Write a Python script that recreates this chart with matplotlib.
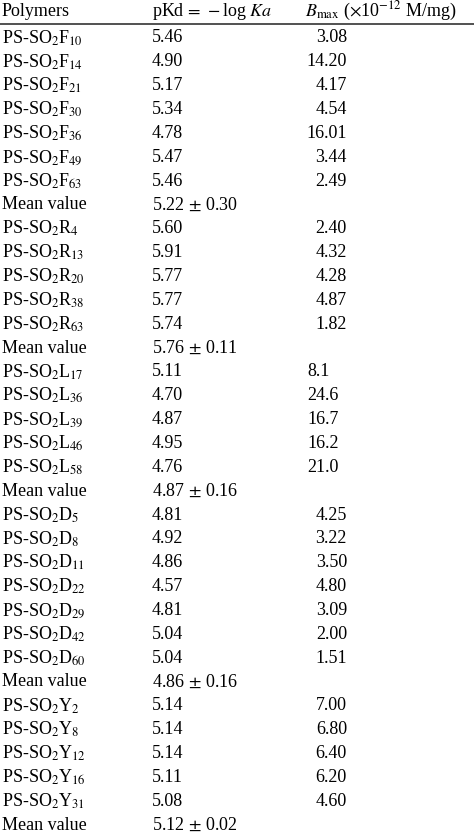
import matplotlib
matplotlib.use('Agg')
import matplotlib.pyplot as plt

plt.rcParams['font.family'] = ['Liberation Serif', 'DejaVu Serif']
plt.rcParams['mathtext.fontset'] = 'stix'

groups = [
    ('F', ['10', '14', '21', '30', '36', '49', '63'],
     ['5.46', '4.90', '5.17', '5.34', '4.78', '5.47', '5.46'],
     ['3.08', '14.20', '4.17', '4.54', '16.01', '3.44', '2.49'], '5.22$\\,\\pm\\,$0.30'),
    ('R', ['4', '13', '20', '38', '63'],
     ['5.60', '5.91', '5.77', '5.77', '5.74'],
     ['2.40', '4.32', '4.28', '4.87', '1.82'], '5.76$\\,\\pm\\,$0.11'),
    ('L', ['17', '36', '39', '46', '58'],
     ['5.11', '4.70', '4.87', '4.95', '4.76'],
     ['8.1', '24.6', '16.7', '16.2', '21.0'], '4.87$\\,\\pm\\,$0.16'),
    ('D', ['5', '8', '11', '22', '29', '42', '60'],
     ['4.81', '4.92', '4.86', '4.57', '4.81', '5.04', '5.04'],
     ['4.25', '3.22', '3.50', '4.80', '3.09', '2.00', '1.51'], '4.86$\\,\\pm\\,$0.16'),
    ('Y', ['2', '8', '12', '16', '31'],
     ['5.14', '5.14', '5.14', '5.11', '5.08'],
     ['7.00', '6.80', '6.40', '6.20', '4.60'], '5.12$\\,\\pm\\,$0.02'),
]

W, H = 474, 832
fig = plt.figure(figsize=(W / 100, H / 100), dpi=100)
ax = fig.add_axes([0, 0, 1, 1])
ax.set_xlim(0, W)
ax.set_ylim(H, 0)
ax.axis('off')

fs = 13
ax.text(2, 11, 'Polymers', fontsize=fs, va='center')
ax.text(152, 11, 'pKd$\\,=\\,-$log $Ka$', fontsize=fs, va='center')
ax.text(305, 11, '$B_{\\mathrm{max}}$ ($\\times$10$^{-12}$ M/mg)', fontsize=fs, va='center')
ax.plot([0, W], [23.5, 23.5], color='#333333', lw=1.2)

y = 38
step = 23.85
for letter, subs, pk, bm, mean in groups:
    for s, p, b in zip(subs, pk, bm):
        ax.text(2, y, 'PS-SO$_2$%s$_{%s}$' % (letter, s), fontsize=fs, va='center')
        ax.text(152, y, p, fontsize=fs, va='center')
        if len(b.split('.')[1]) == 2:
            ax.text(347, y, b, fontsize=fs, va='center', ha='right')
        else:
            ax.text(307, y, b, fontsize=fs, va='center', ha='left')
        y += step
    ax.text(2, y, 'Mean value', fontsize=fs, va='center')
    ax.text(152, y, mean, fontsize=fs, va='center')
    y += step

fig.savefig('out.png', dpi=100)
